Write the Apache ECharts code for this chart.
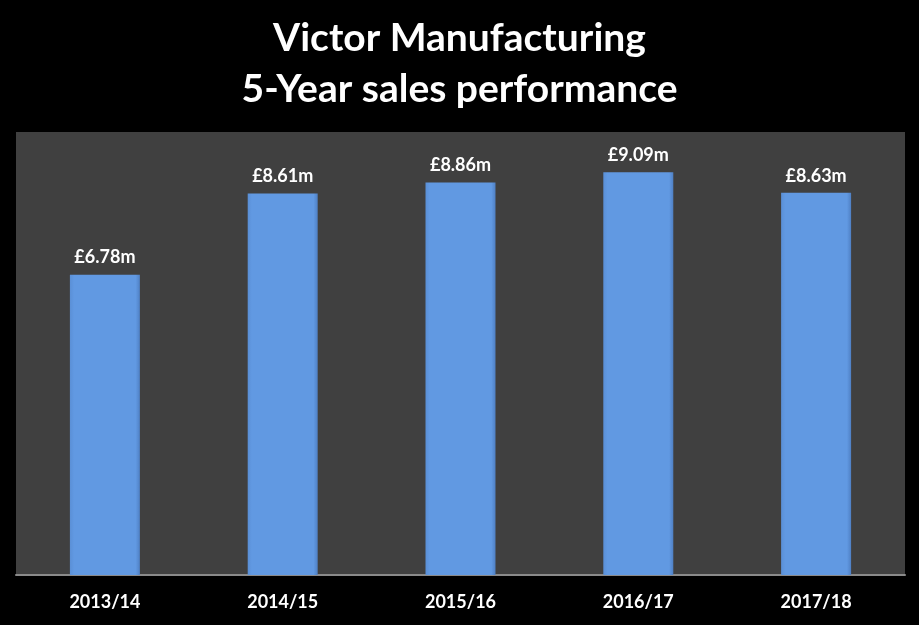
<!DOCTYPE html>
<html>
<head>
<meta charset="utf-8">
<script src="https://cdn.jsdelivr.net/npm/echarts@6/dist/echarts.min.js"></script>
<style>
html, body { margin: 0; padding: 0; background: #000; }
#main { width: 919px; height: 625px; }
</style>
</head>
<body>
<div id="main"></div>
<script>
var years = ['2013/14', '2014/15', '2015/16', '2016/17', '2017/18'];
var sales = [6.78, 8.61, 8.86, 9.09, 8.63];
var titleLines = ['Victor Manufacturing', '5-Year sales performance'];

var chart = echarts.init(document.getElementById('main'));

var option = {
	backgroundColor: '#000',
	animation: false,
	title: {
		text: titleLines.join('\n'),
		left: 'center',
		top: 8,
		textStyle: {
			color: '#fff',
			fontFamily: 'Lato',
			fontWeight: 'bold',
			fontSize: 39,
			lineHeight: 51
		}
	},
	grid: {
		left: 16,
		right: 14,
		top: 132,
		bottom: 50,
		show: true,
		backgroundColor: '#404040',
		borderWidth: 0
	},
	xAxis: {
		type: 'category',
		data: years,
		axisTick: { show: false },
		axisLine: { lineStyle: { color: '#8a8a8a', width: 2 } },
		axisLabel: {
			color: '#fff',
			fontFamily: 'Lato',
			fontWeight: 'bold',
			fontSize: 18,
			margin: 18
		}
	},
	yAxis: {
		type: 'value',
		min: 0,
		max: 10,
		show: false,
		splitLine: { show: false }
	},
	series: [{
		type: 'bar',
		data: sales,
		barWidth: 70,
		itemStyle: {
			color: new echarts.graphic.LinearGradient(0, 0, 1, 0, [
				{ offset: 0, color: '#5a8fd6' },
				{ offset: 0.06, color: '#6199e2' },
				{ offset: 0.94, color: '#6199e2' },
				{ offset: 1, color: '#4f80c4' }
			]),
			borderWidth: 0
		},
		label: {
			show: true,
			position: 'top',
			distance: 8,
			color: '#fff',
			fontFamily: 'Lato',
			fontWeight: 'bold',
			fontSize: 18,
			formatter: function (p) {
				return '£' + p.value.toFixed(2) + 'm';
			}
		}
	}]
};

chart.setOption(option);
</script>
</body>
</html>
